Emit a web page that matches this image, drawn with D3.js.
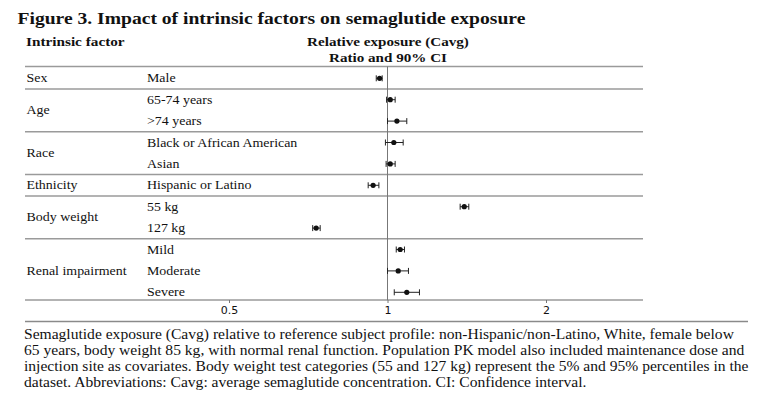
<!DOCTYPE html>
<html>
<head>
<meta charset="utf-8">
<script src="https://cdn.jsdelivr.net/npm/d3@7"></script>
<style>
  body { margin: 0; background: #fff; }
  svg { display: block; }
  text { font-family: "Liberation Serif", "Times New Roman", serif; fill: #111; }
</style>
</head>
<body>
<svg id="chart" width="768" height="397"></svg>
<script>
// subgroup rows, top to bottom
var rows = ["Male", "65-74 years", ">74 years", "Black or African American", "Asian",
            "Hispanic or Latino", "55 kg", "127 kg", "Mild", "Moderate", "Severe"];
// factor groups and which rows they cover
var factors = ["Sex", "Age", "Race", "Ethnicity", "Body weight", "Renal impairment"];
var factorRows = [["Male"], ["65-74 years", ">74 years"], ["Black or African American", "Asian"],
                  ["Hispanic or Latino"], ["55 kg", "127 kg"], ["Mild", "Moderate", "Severe"]];
// relative exposure ratio and 90% CI
var ratio = [0.966, 1.012, 1.042, 1.028, 1.012, 0.939, 1.399, 0.732, 1.057, 1.048, 1.088];
var lower = [0.952, 0.996, 1.000, 0.991, 0.994, 0.919, 1.374, 0.721, 1.039, 1.000, 1.030];
var upper = [0.977, 1.034, 1.088, 1.071, 1.034, 0.963, 1.427, 0.745, 1.077, 1.096, 1.150];
var tickValues = [0.5, 1, 2];

var captionLines = [
  "Semaglutide exposure (Cavg) relative to reference subject profile: non-Hispanic/non-Latino, White, female below",
  "65 years, body weight 85 kg, with normal renal function. Population PK model also included maintenance dose and",
  "injection site as covariates. Body weight test categories (55 and 127 kg) represent the 5% and 95% percentiles in the",
  "dataset. Abbreviations: Cavg: average semaglutide concentration. CI: Confidence interval."
];

var svg = d3.select("#chart");

var tableLeft = 25, tableRight = 643;
var tableTop = 66.5, tableBottom = 300;
var stretch = 1.115; // the source figure is a bit wide

var x = d3.scaleLog().domain([0.5, 2]).range([229, 546]);
var y = d3.scalePoint().domain(rows).range([78.3, 292.3]);
var step = y.step();

// serif text, slightly widened like the original
function label(parent, tx, ty, str, size, sx, bold, anchor) {
  return parent.append("text")
    .attr("transform", "translate(" + tx + "," + ty + ") scale(" + sx + ",1)")
    .attr("text-anchor", anchor || "start")
    .style("font-size", size + "px")
    .style("font-weight", bold ? "bold" : "normal")
    .text(str);
}

// title and headers
label(svg, 17.5, 24, "Figure 3. Impact of intrinsic factors on semaglutide exposure", 17.5, 1.12, true);
label(svg, 26, 45.7, "Intrinsic factor", 13.5, 1.13, true);
label(svg, 388, 46, "Relative exposure (Cavg)", 13.5, 1.12, true, "middle");
label(svg, 388, 61.5, "Ratio and 90% CI", 13.5, 1.12, true, "middle");

// horizontal rules between factor groups
var rules = [tableTop];
factorRows.forEach(function(g, i) {
  if (i < factorRows.length - 1) rules.push(y(g[g.length - 1]) + step / 2);
});
rules.push(tableBottom);

svg.append("g").selectAll("line")
  .data(rules)
  .enter().append("line")
  .attr("x1", tableLeft).attr("x2", tableRight)
  .attr("y1", function(d) { return d; }).attr("y2", function(d) { return d; })
  .attr("stroke", "#9a9a9a").attr("stroke-width", 1.5);

// line under the axis labels
svg.append("line")
  .attr("x1", tableLeft).attr("x2", 748)
  .attr("y1", 321.5).attr("y2", 321.5)
  .attr("stroke", "#8a8a8a").attr("stroke-width", 1.5);

// reference line at ratio 1
svg.append("line")
  .attr("x1", x(1)).attr("x2", x(1))
  .attr("y1", tableTop).attr("y2", tableBottom)
  .attr("stroke", "#777").attr("stroke-width", 1);

// factor labels
var factorG = svg.append("g");
factors.forEach(function(f, i) {
  var g = factorRows[i];
  label(factorG, 26.5, (y(g[0]) + y(g[g.length - 1])) / 2 + 4, f, 12.5, stretch);
});

// subgroup labels
var rowG = svg.append("g");
rows.forEach(function(r) {
  label(rowG, 147, y(r) + 4, r, 12.5, stretch);
});

// x axis
var axis = svg.append("g")
  .attr("transform", "translate(0," + tableBottom + ")")
  .call(d3.axisBottom(x).tickValues(tickValues).tickFormat(d3.format("")).tickSize(3));
axis.select(".domain").remove();
axis.selectAll(".tick line").attr("stroke", "#777");
axis.selectAll(".tick text")
  .attr("y", 6).attr("dy", "0.71em")
  .style("font-family", "'DejaVu Sans', sans-serif")
  .style("font-size", "11px")
  .attr("fill", "#444");

// confidence intervals and points
var data = rows.map(function(r, i) {
  return { row: r, ratio: ratio[i], lo: lower[i], hi: upper[i] };
});

var marks = svg.append("g").selectAll("g")
  .data(data)
  .enter().append("g")
  .attr("transform", function(d) { return "translate(0," + y(d.row) + ")"; });

marks.append("line")
  .attr("x1", function(d) { return x(d.lo); })
  .attr("x2", function(d) { return x(d.hi); })
  .attr("stroke", "#222").attr("stroke-width", 1);

marks.append("line")
  .attr("x1", function(d) { return x(d.lo); })
  .attr("x2", function(d) { return x(d.lo); })
  .attr("y1", -3).attr("y2", 3)
  .attr("stroke", "#222").attr("stroke-width", 1);

marks.append("line")
  .attr("x1", function(d) { return x(d.hi); })
  .attr("x2", function(d) { return x(d.hi); })
  .attr("y1", -3).attr("y2", 3)
  .attr("stroke", "#222").attr("stroke-width", 1);

marks.append("circle")
  .attr("cx", function(d) { return x(d.ratio); })
  .attr("r", 2.6)
  .attr("fill", "#111");

// caption
var capG = svg.append("g");
captionLines.forEach(function(line, i) {
  label(capG, 24, 339 + i * 16, line, 14, 1.113);
});
</script>
</body>
</html>
